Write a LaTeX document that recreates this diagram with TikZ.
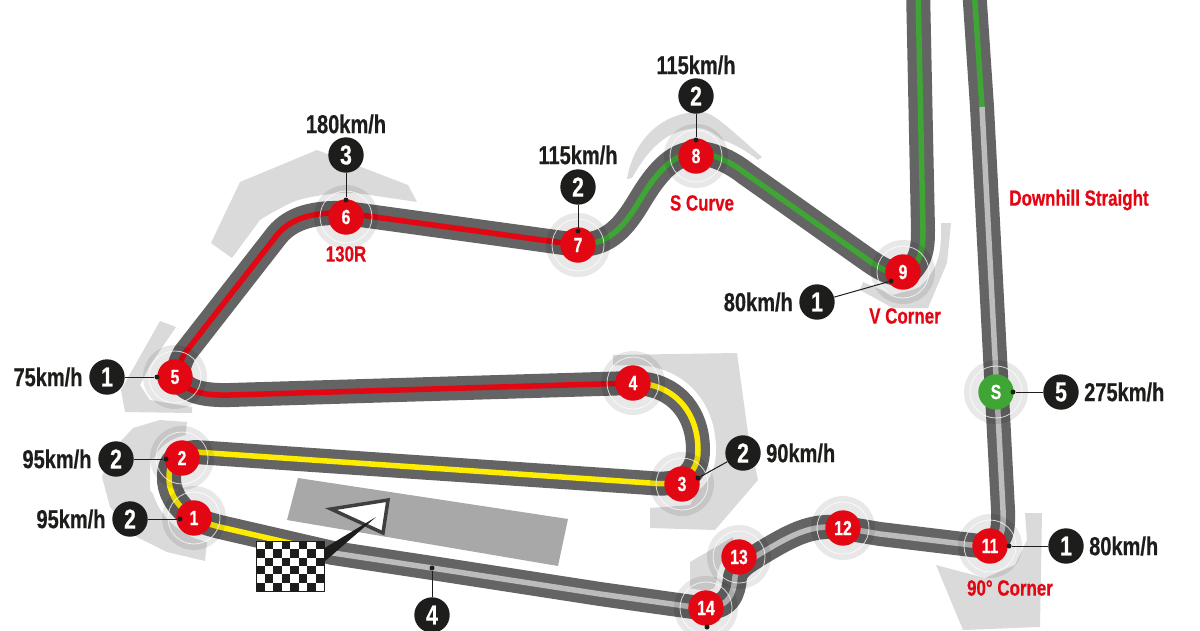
\documentclass[tikz,border=0pt]{standalone}
\usepackage{fontspec}
\setmainfont{Liberation Sans}
\newfontfamily\cond[FakeStretch=0.77,BoldFeatures={FakeBold=0.5}]{Liberation Sans}
\definecolor{trk}{HTML}{646464}
\definecolor{yel}{HTML}{FFED00}
\definecolor{rd}{HTML}{E30613}
\definecolor{grn}{HTML}{3FA535}
\definecolor{lgr}{HTML}{BDBCBC}
\definecolor{roff}{HTML}{DADADA}
\definecolor{blk}{HTML}{1D1D1B}
\definecolor{pit}{HTML}{A8A8A8}
\tikzset{
  runoff/.style={fill=roff,draw=none},
  turn/.style={circle,fill=rd,minimum size=35.4pt,inner sep=0pt,text=white,font=\cond\bfseries\fontsize{20.5}{20.5}\selectfont},
  badge/.style={circle,fill=blk,minimum size=35.4pt,inner sep=0pt,text=white,font=\cond\bfseries\fontsize{27.5}{27.5}\selectfont},
  dotmark/.style={circle,fill=blk,minimum size=5pt,inner sep=0pt},
  leader/.style={draw=blk,line width=1pt},
  speed/.style={text=blk,inner sep=0pt,font=\cond\bfseries\fontsize{26}{26}\selectfont},
  place/.style={text=rd,inner sep=0pt,font=\cond\bfseries\fontsize{22}{22}\selectfont},
  halo/.style={fill=black,fill opacity=.09,draw=none},
  haloring/.style={draw=white,draw opacity=.75,line width=.8pt}
}
\newcommand\secyellow{(333,553) -- (220,527) .. controls (205,523) and (198,521) .. (190,515) .. controls (176,505) and (168,490) .. (169,476) .. controls (169,462) and (176,454) .. (195,452) -- (650,483) .. controls (685,487) and (698,472) .. (698,450) .. controls (698,410) and (672,383) .. (633,383)}
\newcommand\secred{(633,383) -- (230,395) .. controls (195,396) and (165,388) .. (185,353) -- (277,235) .. controls (292,217) and (315,212) .. (346,213) -- (578,245)}
\newcommand\secgreen{(578,245) .. controls (610,245) and (625,225) .. (640,200) .. controls (655,175) and (672,153) .. (696,153) .. controls (715,153) and (735,165) .. (745,173) -- (868,260) .. controls (885,272) and (905,282) .. (915,265) .. controls (922,255) and (923,245) .. (923,230) -- (918,-12)}
\newcommand\secgreenb{(974,-12) -- (982,107)}
\newcommand\secgrey{(982,107) -- (1003,510) .. controls (1004,535) and (1000,547) .. (980,546) -- (880,534) -- (850,529) .. controls (815,522) and (795,533) .. (763,552) .. controls (745,563) and (737,568) .. (735,577) .. controls (734,592) and (730,610) .. (700,608) -- (600,594) -- (432,568) -- (333,553)}
\begin{document}
\begin{tikzpicture}[x=1pt,y=-1pt,line join=round]
\useasboundingbox (0,0) rectangle (1200,630);
\clip (0,0) rectangle (1200,630);
% run-off areas
\path[runoff] (187,422) -- (160,420) -- (133,428) -- (110,453) -- (102,477) -- (110,507) -- (137,537) -- (167,552) -- (205,561) -- (207,542) -- (180,530) -- (150,490) -- (150,460) -- (185,440) -- cycle;
\path[runoff] (613,355) -- (737,353) -- (748,433) -- (758,480) -- (715,530) -- (650,528) -- (650,508) -- (690,505) -- (710,470) -- (705,420) -- (660,380) -- (613,370) -- cycle;
\path[runoff] (690,562) -- (733,537) -- (735,560) -- (710,600) -- (690,590) -- cycle;
\path[runoff] (951,223) -- (947,263) -- (928,308) -- (893,308) -- (860,290) -- (863,282) -- (893,295) -- (920,287) -- (935,263) -- (941,223) -- cycle;
\path[runoff] (627,179) .. controls (633,142) and (660,112) .. (700,112) .. controls (712,112) and (720,120) .. (762,157) -- (753,163) .. controls (720,140) and (712,128) .. (697,128) .. controls (665,130) and (648,150) .. (632,178) -- cycle;
\path[runoff] (211,243) -- (240,182) -- (317,150) -- (408,185) -- (417,202) -- (370,195) .. controls (330,188) and (290,200) .. (260,220) -- (232,258) -- cycle;
% white margin around the track
\foreach \s in {\secyellow,\secred,\secgreen,\secgreenb,\secgrey}{
  \draw[white,line width=36pt] \s;
}
% run-off areas that touch the track
\path[runoff] (160,321) -- (176,327) -- (150,365) -- (140,385) -- (150,400) -- (192,407) -- (192,413) -- (125,412) -- (121,390) -- cycle;
\path[runoff] (1025,513) -- (1042,513) -- (1040,627) -- (963,630) -- (936,565) -- (985,578) -- (1015,565) -- (1027,540) -- cycle;
% pit building
\path[fill=pit] (298,478) -- (568,519) -- (558,566) -- (287,520) -- cycle;
% track
\foreach \s in {\secyellow,\secred,\secgreen,\secgreenb,\secgrey}{
  \draw[trk,line width=24pt,line cap=round] \s;
}
\draw[yel,line width=5.5pt] \secyellow;
\draw[rd,line width=5.5pt] \secred;
\draw[grn,line width=5.5pt] \secgreen;
\draw[grn,line width=5.5pt] \secgreenb;
\draw[lgr,line width=5.5pt] \secgrey;
% start arrow and flag
\draw[fill=white,draw=blk!85!white,line width=3.5pt,line join=miter] (331,509) -- (388,500) -- (383,533) -- cycle;
\path[fill=blk] (323,549) -- (376,517) -- (324,562) -- cycle;
\path[fill=white,draw=blk,line width=.8pt] (256,541) rectangle (324,591);
\foreach \c in {0,...,7}{\foreach \r in {0,...,5}{
  \pgfmathtruncatemacro\odd{mod(\c+\r,2)}
  \ifnum\odd=1 \path[fill=blk] ({256+\c*8.5},{541+\r*8.33}) rectangle ++(8.5,8.33);\fi
}}
% halos
\foreach \x/\y in {194/518,182/458,682/484,633/383,175/377,346/217,578/245,696/156,903/272,996/392,990/546,843/528,739/557,706/608}{
  \path[halo] (\x,\y) circle[radius=32];
  \draw[haloring] (\x,\y) circle[radius=26];
}
% turn markers
\node[turn] (t1) at (194,518) {1};
\node[turn] (t2) at (182,458) {2};
\node[turn] (t3) at (682,484) {3};
\node[turn] (t4) at (633,383) {4};
\node[turn] (t5) at (175,377) {5};
\node[turn] (t6) at (346,217) {6};
\node[turn] (t7) at (578,245) {7};
\node[turn] (t8) at (696,156) {8};
\node[turn] (t9) at (903,272) {9};
\node[turn,fill=grn] (tS) at (996,392) {S};
\node[turn] (t11) at (990,546) {11};
\node[turn] (t12) at (843,528) {12};
\node[turn] (t13) at (739,557) {13};
\node[turn] (t14) at (706,608) {14};
% gear badges
\node[badge] (b1) at (130,519) {2};
\node[badge] (b2) at (116,459) {2};
\node[badge] (b3) at (743,453) {2};
\node[badge] (b4) at (432,615) {4};
\node[badge] (b5) at (107,377) {1};
\node[badge] (b6) at (346,155) {3};
\node[badge] (b7) at (578,187) {2};
\node[badge] (b8) at (696,96) {2};
\node[badge] (b9) at (817,302) {1};
\node[badge] (bS) at (1061,392) {5};
\node[badge] (b11) at (1066,546) {1};
% leader end dots
\node[dotmark] (d1) at (180,519) {};
\node[dotmark] (d2) at (166,459) {};
\node[dotmark] (d3) at (698,478) {};
\node[dotmark] (d4) at (432,568) {};
\node[dotmark] (d5) at (157,377) {};
\node[dotmark] (d6) at (346,200) {};
\node[dotmark] (d7) at (578,231) {};
\node[dotmark] (d8) at (696,140) {};
\node[dotmark] (d9) at (891,281) {};
\node[dotmark] (dS) at (1013,392) {};
\node[dotmark] (d11) at (1009,546) {};
\node[dotmark] (d14) at (707,627) {};
\foreach \b/\d in {b1/d1,b2/d2,b3/d3,b4/d4,b5/d5,b6/d6,b7/d7,b8/d8,b9/d9,bS/dS,b11/d11}{
  \draw[leader] (\b) -- (\d);
}
% speeds
\node[speed] (s1) at (71,519) {95km/h};
\node[speed] (s2) at (57,459) {95km/h};
\node[speed,anchor=west] (s3) at (766,453) {90km/h};
\node[speed] (s5) at (48,377) {75km/h};
\node[speed] (s6) at (346,124) {180km/h};
\node[speed] (s7) at (578,155) {115km/h};
\node[speed] (s8) at (696,65) {115km/h};
\node[speed,anchor=east] (s9) at (793,302) {80km/h};
\node[speed,anchor=west] (sS) at (1084,392) {275km/h};
\node[speed,anchor=west] (s11) at (1089,546) {80km/h};
% corner names
\node[place] (n6) at (346,254) {130R};
\node[place] (n8) at (702,203) {S Curve};
\node[place] (n9) at (905,316) {V Corner};
\node[place] (nd) at (1079,200) {Downhill Straight};
\node[place] (n11) at (1010,588) {90° Corner};
\end{tikzpicture}
\end{document}
